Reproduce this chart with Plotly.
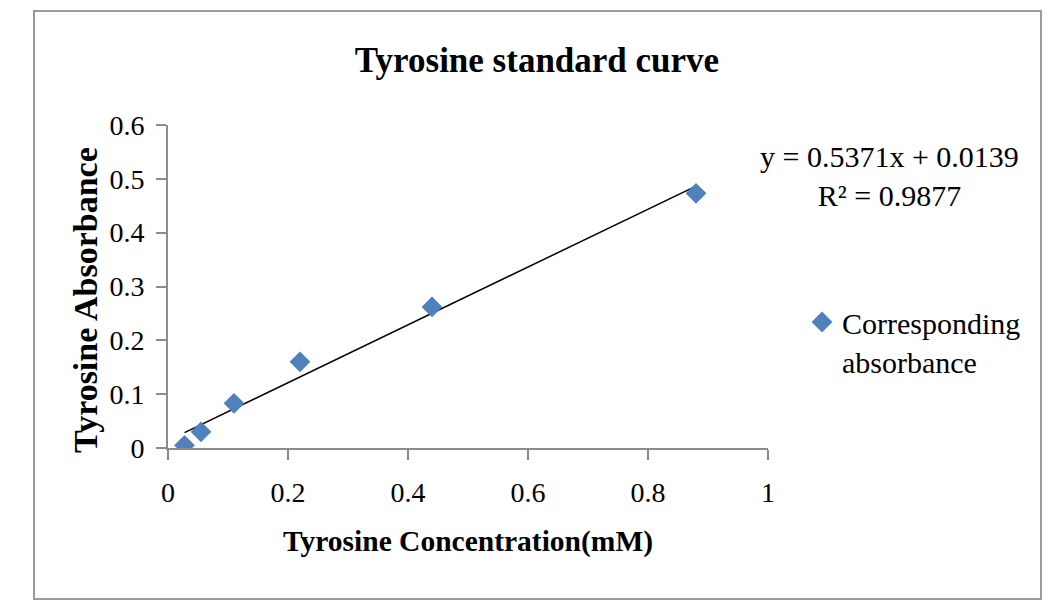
import plotly.graph_objects as go

# Data
concentration_mM = [0.0275, 0.055, 0.11, 0.22, 0.44, 0.88]
absorbance = [0.005, 0.03, 0.083, 0.16, 0.262, 0.473]
fit_slope = 0.5371
fit_intercept = 0.0139
fit_r2 = 0.9877
x_ticks = [0, 0.2, 0.4, 0.6, 0.8, 1]
y_ticks = [0, 0.1, 0.2, 0.3, 0.4, 0.5, 0.6]

FONT = "Liberation Serif, Times New Roman, serif"
AXIS_COLOR = "#8c8c8c"

fit_x = [min(concentration_mM), max(concentration_mM)]
fit_y = [fit_slope * v + fit_intercept for v in fit_x]

fig = go.Figure()
fig.add_trace(go.Scatter(
    x=fit_x, y=fit_y, mode="lines",
    line=dict(color="black", width=1.5),
    showlegend=False, hoverinfo="skip",
))
fig.add_trace(go.Scatter(
    x=concentration_mM, y=absorbance, mode="markers",
    name="Corresponding<br>absorbance",
    marker=dict(symbol="diamond", size=16, color="#4F81BD"),
))

fig.update_layout(
    width=1064, height=602,
    margin=dict(l=168, r=296, t=125, b=154),
    paper_bgcolor="white", plot_bgcolor="white",
    font=dict(family=FONT, size=28, color="black"),
    title=dict(text="<b>Tyrosine standard curve</b>", x=537 / 1064, xref="container",
               xanchor="center",
               y=1 - 60 / 602, yanchor="middle", font=dict(size=35, family=FONT)),
    xaxis=dict(range=[0, 1], tickvals=x_ticks, ticktext=[f"{v:g}" for v in x_ticks],
               showgrid=False, zeroline=False, showline=True, linecolor=AXIS_COLOR,
               linewidth=2, ticks="outside", ticklen=10, tickcolor=AXIS_COLOR, tickwidth=2,
               ticklabelstandoff=8, tickfont=dict(size=28)),
    yaxis=dict(range=[0, 0.6], tickvals=y_ticks, ticktext=[f"{v:g}" for v in y_ticks],
               showgrid=False, zeroline=False, showline=True, linecolor=AXIS_COLOR,
               linewidth=2, ticks="outside", ticklen=10, tickcolor=AXIS_COLOR, tickwidth=2,
               ticklabelstandoff=6, tickfont=dict(size=28)),
    legend=dict(x=(802 - 168) / 600, xanchor="left", y=(448 - 296) / 323, yanchor="top",
                font=dict(size=30, family=FONT), bgcolor="rgba(0,0,0,0)",
                valign="top", itemwidth=30),
    showlegend=True,
)

fig.add_annotation(text="<b>Tyrosine Concentration(mM)</b>", xref="paper", yref="paper",
                   x=(468 - 168) / 600, y=(448 - 541) / 323, showarrow=False,
                   font=dict(size=29.5, family=FONT), xanchor="center", yanchor="middle")
fig.add_annotation(text="<b>Tyrosine Absorbance</b>", xref="paper", yref="paper",
                   x=(85 - 168) / 600, y=(448 - 300) / 323, showarrow=False, textangle=-90,
                   font=dict(size=34, family=FONT), xanchor="center", yanchor="middle")
fig.add_annotation(text=f"y = {fit_slope}x + {fit_intercept}<br>R² = {fit_r2}",
                   xref="paper", yref="paper", x=(889 - 168) / 600, y=(448 - 176) / 323,
                   showarrow=False, align="center", font=dict(size=30, family=FONT),
                   xanchor="center", yanchor="middle")

fig.add_shape(type="rect", xref="paper", yref="paper",
              x0=(34 - 168) / 600, x1=(1041 - 168) / 600,
              y0=(448 - 599) / 323, y1=(448 - 11) / 323,
              line=dict(color="#9a9a9a", width=2), fillcolor="rgba(0,0,0,0)", layer="below")

fig.write_html("out.html")
